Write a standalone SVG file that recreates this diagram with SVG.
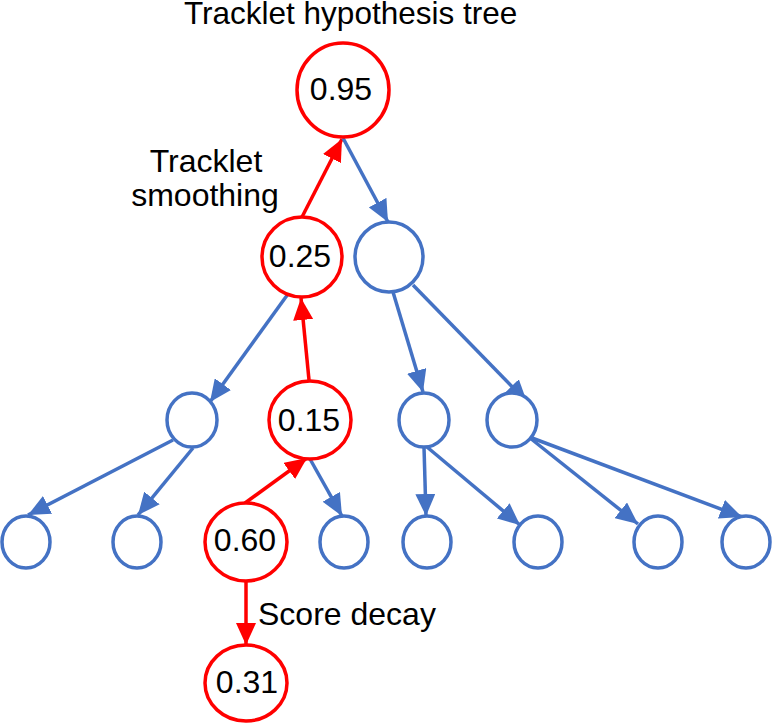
<svg xmlns="http://www.w3.org/2000/svg" width="773" height="724" viewBox="0 0 773 724">
<defs>
<style>
.t{font-family:"Liberation Sans",Arial,sans-serif;font-size:32px;fill:#000}
.m{text-anchor:middle}
.rn{fill:#fff;stroke:#FF0000;stroke-width:3.5}
.bn{fill:#fff;stroke:#4472C4;stroke-width:3.5}
.re{stroke:#FF0000;stroke-width:3.5;fill:none}
.be{stroke:#4472C4;stroke-width:3.5;fill:none}
</style>
<marker id="ar" markerUnits="userSpaceOnUse" markerWidth="22" markerHeight="20" refX="22" refY="10" orient="auto"><path d="M0,0 L22,10 L0,20 z" fill="#FF0000"/></marker>
<marker id="ab" markerUnits="userSpaceOnUse" markerWidth="22" markerHeight="20" refX="22" refY="10" orient="auto"><path d="M0,0 L22,10 L0,20 z" fill="#4472C4"/></marker>
</defs>
<rect width="773" height="724" fill="#fff"/>
<text class="t" x="184" y="24" style="font-size:31.5px">Tracklet hypothesis tree</text>
<text class="t m" x="206" y="172">Tracklet</text>
<text class="t m" x="205" y="206">smoothing</text>
<text class="t" x="258" y="625">Score decay</text>
<g id="connectors">
<line class="re" x1="302" y1="217" x2="342" y2="139" marker-end="url(#ar)"/>
<line class="re" x1="309" y1="380" x2="301" y2="298" marker-end="url(#ar)"/>
<line class="re" x1="245" y1="503" x2="307" y2="458" marker-end="url(#ar)"/>
<line class="re" x1="246" y1="581" x2="246" y2="645" marker-end="url(#ar)"/>
<line class="be" x1="343" y1="138" x2="388" y2="222" marker-end="url(#ab)"/>
<line class="be" x1="288" y1="294" x2="210" y2="402" marker-end="url(#ab)"/>
<line class="be" x1="393" y1="292" x2="423" y2="392" marker-end="url(#ab)"/>
<line class="be" x1="413" y1="285" x2="527" y2="402" marker-end="url(#ab)"/>
<line class="be" x1="173" y1="440" x2="28" y2="515" marker-end="url(#ab)"/>
<line class="be" x1="193" y1="448" x2="138" y2="515" marker-end="url(#ab)"/>
<line class="be" x1="310" y1="459" x2="342" y2="516" marker-end="url(#ab)"/>
<line class="be" x1="424" y1="447" x2="426" y2="516" marker-end="url(#ab)"/>
<line class="be" x1="427" y1="447" x2="520" y2="525" marker-end="url(#ab)"/>
<line class="be" x1="530" y1="438" x2="638" y2="524" marker-end="url(#ab)"/>
<line class="be" x1="532" y1="438" x2="742" y2="517" marker-end="url(#ab)"/>
</g>
<g id="n095"><ellipse class="rn" cx="343" cy="90" rx="46" ry="47"/><text class="t m" x="341" y="100">0.95</text></g>
<g id="n025"><ellipse class="rn" cx="302" cy="257" rx="40" ry="40"/><text class="t m" x="300" y="267">0.25</text></g>
<g id="nB1"><ellipse class="bn" cx="389" cy="257" rx="34" ry="35"/></g>
<g id="nB2"><ellipse class="bn" cx="192" cy="420" rx="25" ry="27"/></g>
<g id="n015"><ellipse class="rn" cx="310" cy="420" rx="41" ry="39"/><text class="t m" x="309" y="431">0.15</text></g>
<g id="nB3"><ellipse class="bn" cx="424" cy="420" rx="25" ry="27"/></g>
<g id="nB4"><ellipse class="bn" cx="512" cy="420" rx="25" ry="27"/></g>
<g id="nL1"><ellipse class="bn" cx="26" cy="542" rx="24" ry="26"/></g>
<g id="nL2"><ellipse class="bn" cx="137" cy="542" rx="24" ry="26"/></g>
<g id="n060"><ellipse class="rn" cx="246" cy="542" rx="41" ry="39"/><text class="t m" x="245" y="551">0.60</text></g>
<g id="nL3"><ellipse class="bn" cx="344" cy="542" rx="24" ry="26"/></g>
<g id="nL4"><ellipse class="bn" cx="427" cy="542" rx="24" ry="26"/></g>
<g id="nL5"><ellipse class="bn" cx="538" cy="542" rx="24" ry="26"/></g>
<g id="nL6"><ellipse class="bn" cx="658" cy="542" rx="24" ry="26"/></g>
<g id="nL7"><ellipse class="bn" cx="746" cy="542" rx="24" ry="26"/></g>
<g id="n031"><ellipse class="rn" cx="246" cy="683" rx="41" ry="38"/><text class="t m" x="247" y="693">0.31</text></g>
</svg>
